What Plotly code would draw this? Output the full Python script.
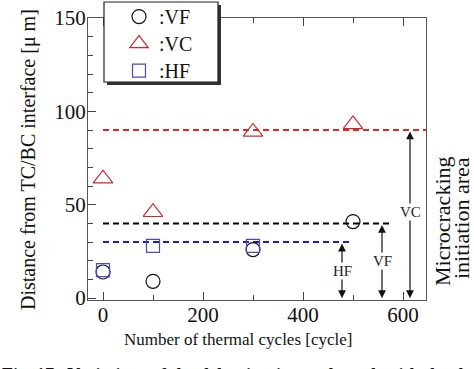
import plotly.graph_objects as go

# ---------------- data ----------------
cycles = [0, 100, 300, 500]
vf_dist = [14, 9, 26, 41]
vc_dist = [64, 46, 89, 93]
hf_cycles = [0, 100, 300]
hf_dist = [15, 28, 28]

# reference levels (dashed lines): level, x-start, x-end
level_names = ["VC", "VF", "HF"]
level_values = [90, 40, 30]
level_x_end = [646, 572, 500]
level_colors = ["#e02828", "#000000", "#1c1cc8"]

# double arrows marking the levels
arrow_x = [614, 558, 478]
arrow_label_y = [46, 20, 14.5]

x_ticks = [0, 200, 400, 600]
y_ticks = [0, 50, 100, 150]

FONT = "Liberation Serif, Times New Roman, serif"
W, H = 474, 369
L, R, T, B = 88, 48, 18, 69
PW = W - L - R
PH = H - T - B


def px(xp):
    return (xp - L) / PW


def py(yp):
    return (H - B - yp) / PH


def big(s):
    return '<span style="font-size:20px">' + s + '</span>'


fig = go.Figure()

# dashed level lines
for name, lv, xe, col in zip(level_names, level_values, level_x_end, level_colors):
    fig.add_trace(go.Scatter(
        x=[0, xe], y=[lv, lv], mode="lines",
        line=dict(color=col, width=2, dash="6px,4px"),
        showlegend=False, hoverinfo="skip", cliponaxis=False))

fig.add_trace(go.Scatter(
    x=cycles, y=vf_dist, mode="markers", name=big(":VF"),
    marker=dict(symbol="circle-open", size=14, color="#111111", line=dict(width=1.2))))
fig.add_trace(go.Scatter(
    x=cycles, y=vc_dist, mode="markers", name=big(":VC"),
    marker=dict(symbol="triangle-up-open", size=17, color="#cc2a2a", line=dict(width=1.2))))
fig.add_trace(go.Scatter(
    x=hf_cycles, y=hf_dist, mode="markers", name=big(":HF"),
    marker=dict(symbol="square-open", size=13, color="#4a4ab8", line=dict(width=1.2))))

annotations = []
for name, lv, ax_, ly in zip(level_names, level_values, arrow_x, arrow_label_y):
    annotations.append(dict(
        x=ax_, y=0, ax=ax_, ay=lv, xref="x", yref="y", axref="x", ayref="y",
        text="", showarrow=True, arrowhead=2, arrowsize=1.3, arrowwidth=1.2,
        arrowside="end+start", arrowcolor="#111111", standoff=0, startstandoff=0))
    annotations.append(dict(
        x=ax_, y=ly, xref="x", yref="y", text=name, showarrow=False,
        xanchor="center", yanchor="middle",
        font=dict(family=FONT, size=15, color="#222222"), bgcolor="white",
        borderpad=0))


def txt(xp, yp, text, size, angle=0):
    return dict(x=px(xp), y=py(yp), xref="paper", yref="paper", text=text,
                textangle=angle, showarrow=False, xanchor="center", yanchor="middle",
                font=dict(family=FONT, size=size, color="#111111"))


# axis titles
annotations.append(txt(28, 160, "Distance from TC/BC interface [\u03bc m]", 20, -90))
annotations.append(txt(238, 339, "Number of thermal cycles [cycle]", 17))
# right-hand note
annotations.append(txt(442, 221, "Microcracking", 22, -90))
annotations.append(txt(461, 218, "initiation area", 22, -90))
# caption (cut off at the bottom)
annotations.append(dict(
    x=px(0), y=py(363), xref="paper", yref="paper", xanchor="left", yanchor="top",
    text="<b>Fig. 17   Variations of the delamination and crack with the thermal cycles</b>",
    showarrow=False, font=dict(family=FONT, size=18, color="#111111")))

shapes = [
    # legend shadow
    dict(type="rect", xref="paper", yref="paper", x0=px(107), x1=px(221), y0=py(85), y1=py(5),
         fillcolor="#333333", line=dict(width=0), layer="above"),
    # legend box
    dict(type="rect", xref="paper", yref="paper", x0=px(104), x1=px(218), y0=py(82), y1=py(2),
         fillcolor="white", line=dict(color="#222222", width=1.2), layer="above"),
]

fig.update_layout(
    width=W, height=H,
    margin=dict(l=L, r=R, t=T, b=B, autoexpand=False),
    paper_bgcolor="white", plot_bgcolor="white",
    font=dict(family=FONT, size=21, color="#111111"),
    showlegend=True,
    legend=dict(x=px(119), y=py(-2), xanchor="left", yanchor="top",
                bgcolor="rgba(0,0,0,0)", borderwidth=0,
                font=dict(family=FONT, size=18.5, color="#111111")),
    annotations=annotations,
    shapes=shapes,
    xaxis=dict(range=[-30, 646], tickvals=x_ticks, ticks="inside", ticklen=8,
               tickwidth=1.2, tickcolor="#444444",
               minor=dict(dtick=100, tick0=0, ticks="inside", ticklen=5, tickcolor="#444444"),
               showline=True, linecolor="#555555", linewidth=1.2, mirror="ticks",
               showgrid=False, zeroline=False, automargin=False, ticklabelstandoff=-4,
               tickfont=dict(family=FONT, size=21)),
    yaxis=dict(range=[-1, 150], tickvals=y_ticks, ticks="inside", ticklen=8,
               tickwidth=1.2, tickcolor="#444444",
               minor=dict(dtick=10, tick0=0, ticks="inside", ticklen=5, tickcolor="#444444"),
               showline=True, linecolor="#555555", linewidth=1.2, mirror=True,
               showgrid=False, zeroline=False, automargin=False, ticklabelstandoff=-3,
               tickfont=dict(family=FONT, size=21)),
)

fig.write_html("out.html", config={"displayModeBar": False},
               post_script="document.body.style.margin='0';")
